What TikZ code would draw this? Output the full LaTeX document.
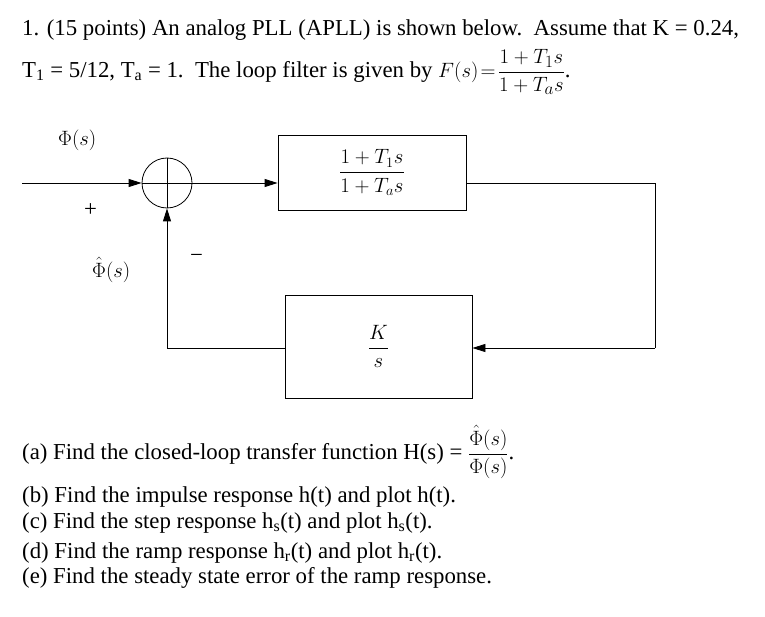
\documentclass[tikz,border=0pt]{standalone}
\usepackage{fontspec}
\usepackage{amsmath}
\setmainfont{Liberation Serif}
\usetikzlibrary{arrows.meta}
\begin{document}
\begin{tikzpicture}[x=1pt,y=-1pt,
  txt/.style={anchor=west,inner sep=0pt,font=\fontsize{22.8}{25}\selectfont},
  blk/.style={draw,line width=0.8pt},
  sig/.style={line width=0.8pt,-{Triangle[length=13pt,width=8pt]}},
  wire/.style={line width=0.8pt}]
\useasboundingbox (0,0) rectangle (765,617);
\node[txt] (l1) at (22,30) {1. (15 points) An analog PLL (APLL) is shown below.\ \ Assume that K = 0.24,};
\node[txt] (l2) at (22,72) {T\textsubscript{1} = 5/12, T\textsubscript{a} = 1.\ \ The loop filter is given by $F(s)\!=\!\dfrac{1+T_1s}{1+T_as}$.};
\node[txt] (phi) at (58,140) {$\Phi(s)$};
\node[txt] (plus) at (84,210) {+};
\node[txt] (phihat) at (92,270) {$\hat\Phi(s)$};
\node[txt] (minus) at (190,258) {\textminus};
\coordinate (in) at (22,183);
\node[draw,circle,minimum size=50pt,inner sep=0pt,line width=0.8pt] (sum) at (167,183) {};
\draw[wire] (sum.north)--(sum.south) (sum.west)--(sum.east);
\node[blk,minimum width=188pt,minimum height=75pt] (f) at (372,172.5) {\fontsize{21}{24}\selectfont$\dfrac{1+T_1s}{1+T_as}$};
\node[blk,minimum width=187pt,minimum height=103pt] (k) at (378.5,346.5) {\fontsize{21}{24}\selectfont$\dfrac{K}{s}$};
\coordinate (r) at (655,183);
\coordinate (r2) at (655,348);
\coordinate (l) at (167,348);
\draw[sig] (in)--(sum.west);
\draw[sig] (sum.east)--(f.west |- sum.east);
\draw[wire] (f.east |- r)--(r)--(r2);
\draw[sig] (r2)--(k.east |- r2);
\draw[wire] (k.west |- l)--(l);
\draw[sig] (l)--(sum.south);
\node[txt] (a) at (22,452) {(a) Find the closed-loop transfer function H(s) = $\dfrac{\hat\Phi(s)}{\Phi(s)}$.};
\node[txt] (b) at (22,497) {(b) Find the impulse response h(t) and plot h(t).};
\node[txt] (c) at (22,523) {(c) Find the step response h\textsubscript{s}(t) and plot h\textsubscript{s}(t).};
\node[txt] (d) at (22,553) {(d) Find the ramp response h\textsubscript{r}(t) and plot h\textsubscript{r}(t).};
\node[txt] (e) at (22,578) {(e) Find the steady state error of the ramp response.};
\end{tikzpicture}
\end{document}
